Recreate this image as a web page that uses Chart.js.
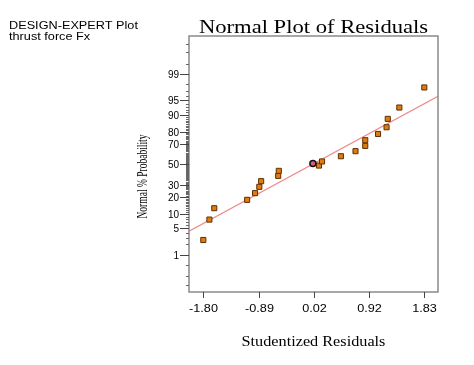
<!DOCTYPE html>
<html>
<head>
<meta charset="utf-8">
<script src="https://cdn.jsdelivr.net/npm/chart.js@4/dist/chart.umd.min.js"></script>
<style>
  body { margin: 0; background: #fff; }
</style>
</head>
<body>
<canvas id="normalPlot" width="474" height="365"></canvas>
<script>
// studentized residuals (squares) and their normal % probability
const residuals = [-1.80, -1.70, -1.62, -1.08, -0.95, -0.88, -0.85, -0.57, -0.56, 0.10,
    0.15, 0.46, 0.70, 0.86, 0.86, 1.07, 1.21, 1.23, 1.42, 1.83];
const probabilities = [2.6, 7.8, 13.0, 18.1, 23.0, 28.2, 33.3, 38.4, 43.4, 48.8,
    53.0, 58.3, 63.3, 68.3, 73.3, 78.3, 83.0, 87.9, 92.8, 97.6];

// highlighted point (circle)
const markedResidual = [0.00];
const markedProbability = [51.0];

// reference line
const lineResidual = [-2.035, 2.055];
const lineProbability = [4.3, 96.0];

const xTickValues = [-1.80, -0.89, 0.02, 0.92, 1.83];
const yTickLabels = [1, 5, 10, 20, 30, 50, 70, 80, 90, 95, 99];

const SANS = 'Arial, "Liberation Sans", sans-serif';
const SERIF = '"Times New Roman", "Liberation Serif", serif';

// inverse normal cdf, p in percent
function probit(pct) {
    const p = pct / 100;
    const a = [-3.969683028665376e+01, 2.209460984245205e+02, -2.759285104469687e+02,
        1.383577518672690e+02, -3.066479806614716e+01, 2.506628277459239e+00];
    const b = [-5.447609879822406e+01, 1.615858368580409e+02, -1.556989798598866e+02,
        6.680131188771972e+01, -1.328068155288572e+01];
    const c = [-7.784894002430293e-03, -3.223964580411365e-01, -2.400758277161838e+00,
        -2.549732539343734e+00, 4.374664141464968e+00, 2.938163982698783e+00];
    const d = [7.784695709041462e-03, 3.224671290700398e-01, 2.445134137142996e+00,
        3.754408661907416e+00];
    const pl = 0.02425;
    let q, r;
    if (p < pl) {
        q = Math.sqrt(-2 * Math.log(p));
        return (((((c[0]*q+c[1])*q+c[2])*q+c[3])*q+c[4])*q+c[5]) / ((((d[0]*q+d[1])*q+d[2])*q+d[3])*q+1);
    }
    if (p <= 1 - pl) {
        q = p - 0.5;
        r = q * q;
        return (((((a[0]*r+a[1])*r+a[2])*r+a[3])*r+a[4])*r+a[5])*q / (((((b[0]*r+b[1])*r+b[2])*r+b[3])*r+b[4])*r+1);
    }
    q = Math.sqrt(-2 * Math.log(1 - p));
    return -(((((c[0]*q+c[1])*q+c[2])*q+c[3])*q+c[4])*q+c[5]) / ((((d[0]*q+d[1])*q+d[2])*q+d[3])*q+1);
}

function drawText(ctx, text, x, y, font, align, stretch) {
    ctx.save();
    ctx.translate(x, y);
    ctx.scale(stretch, 1);
    ctx.font = font;
    ctx.textAlign = align;
    ctx.textBaseline = 'alphabetic';
    ctx.fillStyle = '#000';
    ctx.fillText(text, 0, 0);
    ctx.restore();
}

// frame, ticks and all the text
const decorPlugin = {
    id: 'decor',
    afterDraw(chart) {
        const ctx = chart.ctx;
        const area = chart.chartArea;
        const xs = chart.scales.x;
        const ys = chart.scales.y;

        ctx.save();
        ctx.strokeStyle = '#8a8a8a';
        ctx.lineWidth = 1.5;
        ctx.strokeRect(area.left, area.top, area.right - area.left, area.bottom - area.top);

        ctx.strokeStyle = '#666';
        ctx.lineWidth = 1;
        // minor y ticks
        const minor = [0.1, 0.2, 0.5, 99.5, 99.8, 99.9];
        for (let i = 1; i < 100; i++) minor.push(i);
        minor.forEach(p => {
            const y = Math.round(ys.getPixelForValue(probit(p))) + 0.5;
            ctx.beginPath();
            ctx.moveTo(area.left - 3, y);
            ctx.lineTo(area.left, y);
            ctx.stroke();
        });
        // major y ticks + labels
        ctx.strokeStyle = '#444';
        yTickLabels.forEach(p => {
            const y = Math.round(ys.getPixelForValue(probit(p))) + 0.5;
            ctx.beginPath();
            ctx.moveTo(area.left - 9, y);
            ctx.lineTo(area.left, y);
            ctx.stroke();
            drawText(ctx, String(p), area.left - 10, y + 3.5, '10px ' + SANS, 'right', 1);
        });
        // x ticks + labels
        xTickValues.forEach(v => {
            const x = Math.round(xs.getPixelForValue(v)) + 0.5;
            ctx.beginPath();
            ctx.moveTo(x, area.bottom);
            ctx.lineTo(x, area.bottom + 6);
            ctx.stroke();
            drawText(ctx, v.toFixed(2), x, 312, '11px ' + SANS, 'center', 1.15);
        });
        ctx.restore();

        const center = (area.left + area.right) / 2;
        drawText(ctx, 'DESIGN-EXPERT Plot', 9, 29, '10px ' + SANS, 'left', 1.27);
        drawText(ctx, 'thrust force Fx', 9, 39.5, '10px ' + SANS, 'left', 1.27);
        drawText(ctx, 'Normal Plot of Residuals', center, 33, '19px ' + SERIF, 'center', 1.19);
        drawText(ctx, 'Studentized Residuals', center, 346, '14px ' + SERIF, 'center', 1.16);

        // y axis title, rotated and squeezed to its length in the picture
        ctx.save();
        ctx.font = '15px ' + SERIF;
        const w = ctx.measureText('Normal % Probability').width;
        ctx.translate(147, 176.5);
        ctx.rotate(-Math.PI / 2);
        ctx.scale(84 / w, 1);
        ctx.textAlign = 'center';
        ctx.fillStyle = '#000';
        ctx.fillText('Normal % Probability', 0, 0);
        ctx.restore();
    }
};

new Chart(document.getElementById('normalPlot'), {
    type: 'scatter',
    data: {
        datasets: [
            {
                label: 'fit',
                type: 'line',
                data: lineResidual.map((x, i) => ({ x: x, y: probit(lineProbability[i]) })),
                borderColor: '#f08a8a',
                borderWidth: 1.2,
                pointRadius: 0,
                fill: false,
                order: 3
            },
            {
                label: 'residuals',
                data: residuals.map((x, i) => ({ x: x, y: probit(probabilities[i]) })),
                pointStyle: 'rect',
                pointRadius: 3.6,
                backgroundColor: '#e07b10',
                borderColor: '#5a3000',
                borderWidth: 1,
                order: 2
            },
            {
                label: 'marked',
                data: markedResidual.map((x, i) => ({ x: x, y: probit(markedProbability[i]) })),
                pointStyle: 'circle',
                pointRadius: 3,
                backgroundColor: '#d8607c',
                borderColor: '#111',
                borderWidth: 1.5,
                order: 1
            }
        ]
    },
    options: {
        responsive: false,
        animation: false,
        layout: { padding: { left: 189, top: 36, right: 36, bottom: 73 } },
        plugins: {
            legend: { display: false },
            tooltip: { enabled: false },
            title: { display: false }
        },
        scales: {
            x: { type: 'linear', min: -2.035, max: 2.055, display: false },
            y: { type: 'linear', min: -3.28, max: 3.30, display: false }
        }
    },
    plugins: [decorPlugin]
});
</script>
</body>
</html>
